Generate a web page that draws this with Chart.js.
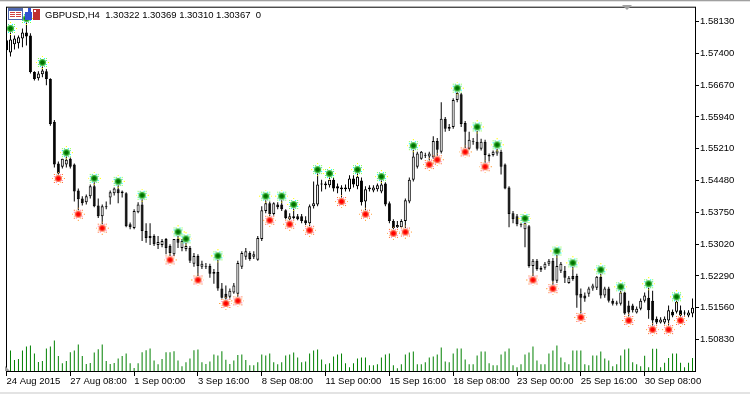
<!DOCTYPE html>
<html>
<head>
<meta charset="utf-8">
<script src="https://cdn.jsdelivr.net/npm/chart.js@4.4.0/dist/chart.umd.min.js"></script>
<style>
  html, body { margin: 0; padding: 0; background: #fff; }
  canvas { display: block; }
</style>
</head>
<body>
<canvas id="chart" width="750" height="394"></canvas>
<script>
// GBPUSD H4 candles (one bar every 4h, index 0 = leftmost)
const opens = [
  1.5747,1.5742,1.5761,1.5763,1.5774,1.5788,1.5781,1.5697,1.5683,1.5692,
  1.5699,1.5681,1.5583,1.5487,1.5480,1.5485,1.5498,1.5485,1.5425,1.5407,
  1.5398,1.5412,1.5435,1.5391,1.5366,1.5389,1.5409,1.5419,1.5428,1.5423,
  1.5419,1.5348,1.5339,1.5375,1.5393,1.5332,1.5321,1.5321,1.5300,1.5300,
  1.5314,1.5298,1.5279,1.5314,1.5293,1.5291,1.5293,1.5257,1.5275,1.5250,
  1.5252,1.5252,1.5234,1.5238,1.5200,1.5188,1.5181,1.5191,1.5188,1.5250,
  1.5273,1.5282,1.5273,1.5266,1.5314,1.5378,1.5396,1.5371,1.5393,1.5393,
  1.5380,1.5359,1.5366,1.5366,1.5366,1.5357,1.5350,1.5389,1.5393,1.5441,
  1.5441,1.5437,1.5450,1.5435,1.5432,1.5428,1.5428,1.5453,1.5435,1.5448,
  1.5400,1.5432,1.5425,1.5428,1.5423,1.5441,1.5396,1.5355,1.5341,1.5341,
  1.5355,1.5400,1.5450,1.5480,1.5498,1.5505,1.5503,1.5501,1.5539,1.5514,
  1.5590,1.5567,1.5571,1.5633,1.5646,1.5580,1.5521,1.5539,1.5537,1.5521,
  1.5537,1.5507,1.5507,1.5510,1.5514,1.5485,1.5432,1.5373,1.5366,1.5346,
  1.5336,1.5343,1.5252,1.5264,1.5248,1.5248,1.5257,1.5264,1.5218,1.5241,
  1.5241,1.5213,1.5229,1.5229,1.5188,1.5184,1.5188,1.5200,1.5202,1.5227,
  1.5184,1.5200,1.5172,1.5165,1.5165,1.5191,1.5161,1.5161,1.5145,1.5154,
  1.5172,1.5179,1.5172,1.5131,1.5122,1.5122,1.5127,1.5147,1.5147,1.5150,
  1.5143,1.5138,1.5143
];
const highs = [
  1.5783,1.5788,1.5781,1.5781,1.5797,1.5811,1.5786,1.5699,1.5699,1.5710,
  1.5704,1.5683,1.5587,1.5492,1.5498,1.5503,1.5501,1.5487,1.5430,1.5412,
  1.5416,1.5439,1.5444,1.5407,1.5393,1.5400,1.5425,1.5432,1.5437,1.5425,
  1.5421,1.5352,1.5382,1.5398,1.5405,1.5350,1.5350,1.5325,1.5321,1.5314,
  1.5316,1.5302,1.5314,1.5321,1.5314,1.5305,1.5298,1.5282,1.5279,1.5264,
  1.5259,1.5257,1.5245,1.5266,1.5213,1.5207,1.5200,1.5213,1.5264,1.5286,
  1.5293,1.5286,1.5286,1.5321,1.5389,1.5403,1.5400,1.5398,1.5398,1.5403,
  1.5382,1.5373,1.5384,1.5371,1.5371,1.5366,1.5393,1.5446,1.5464,1.5450,
  1.5446,1.5455,1.5455,1.5441,1.5437,1.5439,1.5460,1.5460,1.5464,1.5455,
  1.5435,1.5437,1.5437,1.5441,1.5448,1.5444,1.5400,1.5359,1.5355,1.5359,
  1.5407,1.5455,1.5519,1.5514,1.5516,1.5512,1.5514,1.5550,1.5546,1.5628,
  1.5594,1.5578,1.5637,1.5651,1.5649,1.5585,1.5560,1.5546,1.5562,1.5544,
  1.5542,1.5510,1.5517,1.5521,1.5519,1.5487,1.5435,1.5378,1.5371,1.5350,
  1.5352,1.5346,1.5268,1.5268,1.5252,1.5261,1.5268,1.5270,1.5277,1.5261,
  1.5252,1.5229,1.5250,1.5234,1.5200,1.5191,1.5204,1.5211,1.5229,1.5234,
  1.5204,1.5204,1.5177,1.5172,1.5195,1.5193,1.5172,1.5165,1.5159,1.5177,
  1.5191,1.5202,1.5195,1.5136,1.5134,1.5136,1.5161,1.5152,1.5172,1.5161,
  1.5150,1.5150,1.5177
];
const lows = [
  1.5738,1.5733,1.5749,1.5751,1.5754,1.5758,1.5694,1.5678,1.5678,1.5685,
  1.5667,1.5574,1.5478,1.5462,1.5476,1.5478,1.5476,1.5400,1.5380,1.5391,
  1.5393,1.5407,1.5387,1.5362,1.5348,1.5382,1.5393,1.5414,1.5396,1.5409,
  1.5341,1.5336,1.5336,1.5373,1.5309,1.5305,1.5300,1.5298,1.5291,1.5295,
  1.5279,1.5275,1.5275,1.5293,1.5286,1.5286,1.5259,1.5250,1.5229,1.5245,
  1.5245,1.5225,1.5211,1.5195,1.5177,1.5175,1.5177,1.5188,1.5181,1.5245,
  1.5266,1.5264,1.5268,1.5264,1.5309,1.5373,1.5366,1.5368,1.5382,1.5378,
  1.5359,1.5357,1.5359,1.5357,1.5350,1.5346,1.5343,1.5384,1.5389,1.5423,
  1.5428,1.5432,1.5423,1.5419,1.5409,1.5423,1.5423,1.5432,1.5428,1.5391,
  1.5380,1.5423,1.5421,1.5423,1.5419,1.5389,1.5350,1.5336,1.5339,1.5341,
  1.5339,1.5396,1.5446,1.5476,1.5496,1.5500,1.5494,1.5498,1.5505,1.5510,
  1.5560,1.5562,1.5567,1.5628,1.5571,1.5523,1.5519,1.5530,1.5517,1.5517,
  1.5489,1.5492,1.5503,1.5505,1.5462,1.5428,1.5341,1.5350,1.5343,1.5341,
  1.5295,1.5248,1.5229,1.5241,1.5238,1.5243,1.5252,1.5209,1.5213,1.5236,
  1.5213,1.5211,1.5218,1.5156,1.5143,1.5170,1.5181,1.5195,1.5197,1.5177,
  1.5179,1.5168,1.5161,1.5161,1.5161,1.5140,1.5136,1.5145,1.5143,1.5150,
  1.5168,1.5131,1.5115,1.5118,1.5120,1.5118,1.5115,1.5134,1.5143,1.5136,
  1.5138,1.5134,1.5134
];
const closes = [
  1.5770,1.5772,1.5774,1.5777,1.5788,1.5779,1.5697,1.5681,1.5694,1.5701,
  1.5681,1.5578,1.5485,1.5464,1.5498,1.5496,1.5480,1.5423,1.5405,1.5396,
  1.5412,1.5435,1.5389,1.5366,1.5389,1.5387,1.5421,1.5430,1.5419,1.5419,
  1.5343,1.5341,1.5378,1.5393,1.5332,1.5316,1.5316,1.5302,1.5307,1.5309,
  1.5293,1.5282,1.5314,1.5305,1.5309,1.5298,1.5264,1.5275,1.5252,1.5257,
  1.5250,1.5234,1.5238,1.5200,1.5179,1.5177,1.5195,1.5207,1.5259,1.5282,
  1.5286,1.5268,1.5279,1.5316,1.5380,1.5396,1.5371,1.5396,1.5387,1.5382,
  1.5362,1.5366,1.5362,1.5359,1.5355,1.5350,1.5389,1.5396,1.5439,1.5439,
  1.5437,1.5450,1.5430,1.5430,1.5428,1.5432,1.5453,1.5439,1.5457,1.5398,
  1.5428,1.5428,1.5432,1.5437,1.5439,1.5393,1.5355,1.5339,1.5346,1.5355,
  1.5403,1.5450,1.5503,1.5510,1.5514,1.5507,1.5510,1.5539,1.5519,1.5590,
  1.5567,1.5571,1.5633,1.5649,1.5578,1.5560,1.5542,1.5537,1.5521,1.5537,
  1.5507,1.5503,1.5514,1.5517,1.5480,1.5430,1.5371,1.5359,1.5348,1.5348,
  1.5350,1.5252,1.5264,1.5245,1.5243,1.5257,1.5264,1.5218,1.5252,1.5257,
  1.5225,1.5225,1.5222,1.5184,1.5179,1.5177,1.5200,1.5207,1.5227,1.5184,
  1.5200,1.5172,1.5165,1.5168,1.5191,1.5143,1.5145,1.5150,1.5154,1.5172,
  1.5184,1.5150,1.5127,1.5122,1.5129,1.5131,1.5150,1.5138,1.5170,1.5138,
  1.5145,1.5145,1.5156
];
const volumes = [
  1500,2170,1200,1300,2170,2570,2670,1870,1000,1100,
  2370,2570,3170,1600,870,1100,2000,2170,2770,1600,
  800,900,1970,2300,2770,1100,800,900,1370,1600,
  1870,870,400,870,2000,2200,2370,1170,770,1300,
  2000,2000,2100,1170,570,970,1370,2200,2270,970,
  800,1070,1770,1670,2100,1230,800,1170,1700,1770,
  1200,670,670,970,1770,1670,1870,970,770,970,
  1670,1770,1970,1470,970,1070,1870,2170,2270,1270,
  770,870,1570,1770,1870,870,470,870,1370,1470,
  1470,670,670,770,1470,1770,1870,670,370,770,
  1770,1970,2070,770,770,970,1470,1570,1770,2470,
  1070,970,1870,2370,2370,1270,770,770,1670,2070,
  2070,870,670,670,1770,2070,2370,670,470,770,
  1770,1970,2570,1170,770,770,1870,2170,2670,1470,
  970,770,2170,2170,2170,770,670,1670,1670,2070,
  1370,1170,570,770,1670,2270,2370,970,770,570,
  1630,470,2330,2330,470,930,1400,1870,1870,930,
  470,930,1400
];
// bars carrying a fractal arrow
const upFractals = [1,5,9,15,22,28,34,43,45,53,65,69,72,78,81,88,94,102,113,118,123,130,138,142,149,154,161,168];
const downFractals = [13,18,24,41,48,55,58,66,71,76,84,90,97,100,106,108,115,120,132,137,144,156,162,166,169];

const timeLabels = ['24 Aug 2015','27 Aug 08:00','1 Sep 00:00','3 Sep 16:00','8 Sep 08:00',
  '11 Sep 00:00','15 Sep 16:00','18 Sep 08:00','23 Sep 00:00','25 Sep 16:00','30 Sep 08:00'];
const labelStep = 16;
const priceTicks = [1.58130,1.57400,1.56670,1.55940,1.55210,1.54480,1.53750,1.53020,1.52290,1.51560,1.50830];

const FONT = { family: '"Liberation Sans", Arial, sans-serif', size: 9.5 };

function makeArrow(up) {
  const c = document.createElement('canvas');
  c.width = 13; c.height = 21;
  const g = c.getContext('2d');
  const cx = 6.5, cy = up ? 6.5 : 14.5;
  const halo = up ? ['#ffff00', '#00ffff', '#80ff40', '#40e0a0'] : ['#ffa040', '#ff80c0', '#ff6020', '#ffc080'];
  for (let k = 0; k < 16; k++) {
    const a = k * Math.PI / 8;
    const r = k % 2 ? 4.6 : 5.6;
    g.fillStyle = halo[k % 4];
    g.fillRect(Math.floor(cx + r * Math.cos(a)), Math.floor(cy + r * Math.sin(a)), 1, 1);
  }
  g.fillStyle = up ? '#40c040' : '#ff7050';
  g.beginPath(); g.arc(cx, cy, 3.6, 0, Math.PI * 2); g.fill();
  g.fillStyle = up ? '#007000' : '#ff0000';
  g.beginPath(); g.arc(cx, cy, 2.3, 0, Math.PI * 2); g.fill();
  return c;
}

const idx = opens.map((_, i) => i);
const isUp = idx.map(i => closes[i] >= opens[i]);

const chrome = {
  id: 'chrome',
  beforeDraw(chart) {
    const ctx = chart.ctx;
    ctx.save();
    ctx.fillStyle = '#fff';
    ctx.fillRect(0, 0, chart.width, chart.height);
    ctx.restore();
  },
  afterDraw(chart) {
    const { ctx, chartArea: a } = chart;
    ctx.save();
    // window edges
    ctx.fillStyle = '#a0a0a0';
    ctx.fillRect(0, 0, chart.width, 1);
    ctx.fillStyle = '#e3e3e3';
    ctx.fillRect(0, 1, chart.width, 1);
    ctx.fillRect(0, chart.height - 2, chart.width, 2);
    // plot frame
    ctx.strokeStyle = '#000';
    ctx.lineWidth = 1;
    ctx.strokeRect(a.left + 0.5, a.top + 0.5, a.right - a.left, a.bottom - a.top - 1);
    // shift marker at top and corner marker bottom left
    ctx.fillStyle = '#a0a0a0';
    ctx.beginPath(); ctx.moveTo(622, 5); ctx.lineTo(632, 5); ctx.lineTo(627, 10); ctx.closePath(); ctx.fill();
    ctx.beginPath(); ctx.moveTo(5, 371); ctx.lineTo(10, 371); ctx.lineTo(5, 366); ctx.closePath(); ctx.fill();
    // header icons
    ctx.fillStyle = '#5068b0'; ctx.fillRect(8, 8, 15, 12);
    ctx.fillStyle = '#fff'; ctx.fillRect(9, 11, 13, 8);
    ctx.fillStyle = '#d04040';
    for (let r = 0; r < 3; r++) { ctx.fillRect(10, 12 + r * 2, 5, 1); ctx.fillRect(16, 12 + r * 2, 5, 1); }
    ctx.fillStyle = '#3050d0'; ctx.fillRect(25, 12, 7, 8); ctx.fillRect(28, 8, 3, 5);
    ctx.fillStyle = '#c03030'; ctx.fillRect(33, 9, 7, 11);
    ctx.fillStyle = '#fff'; ctx.fillRect(34, 10, 2, 2);
    // header text
    ctx.fillStyle = '#000';
    ctx.font = '9.5px "Liberation Sans", Arial, sans-serif';
    ctx.textBaseline = 'middle';
    ctx.fillText('GBPUSD,H4  1.30322 1.30369 1.30310 1.30367  0', 45, 15);
    ctx.restore();
  }
};

new Chart(document.getElementById('chart'), {
  type: 'bar',
  data: {
    datasets: [
      {
        type: 'scatter',
        data: upFractals.map(i => ({ x: i, y: highs[i] })),
        pointStyle: makeArrow(true),
        pointRadius: 5,
        order: 0
      },
      {
        type: 'scatter',
        data: downFractals.map(i => ({ x: i, y: lows[i] })),
        pointStyle: makeArrow(false),
        pointRadius: 5,
        order: 0
      },
      {
        data: idx.map(i => ({ x: i, y: [opens[i], closes[i]] })),
        backgroundColor: isUp.map(u => u ? '#ffffff' : '#000000'),
        borderColor: '#000',
        borderWidth: 1,
        borderSkipped: false,
        barThickness: 3,
        grouped: false,
        inflateAmount: 0,
        order: 1
      },
      {
        data: idx.map(i => ({ x: i, y: [lows[i], highs[i]] })),
        backgroundColor: '#000',
        borderWidth: 0,
        barThickness: 1,
        grouped: false,
        inflateAmount: 0,
        order: 2
      },
      {
        data: idx.map(i => ({ x: i, y: volumes[i] })),
        yAxisID: 'yVol',
        backgroundColor: '#008000',
        borderWidth: 0,
        barThickness: 1,
        grouped: false,
        inflateAmount: 0,
        order: 3
      }
    ]
  },
  options: {
    responsive: false,
    animation: false,
    devicePixelRatio: 1,
    layout: { padding: { left: 4, top: 4, right: 0, bottom: 0 } },
    plugins: { legend: { display: false }, tooltip: { enabled: false } },
    scales: {
      x: {
        type: 'linear',
        offset: false,
        min: -0.125,
        max: 172.625,
        afterBuildTicks: s => { s.ticks = timeLabels.map((_, k) => ({ value: k * labelStep })); },
        afterFit: s => { s.height = 22; },
        ticks: {
          callback: v => timeLabels[Math.round(v / labelStep)],
          align: 'start',
          maxRotation: 0,
          autoSkip: false,
          padding: 0,
          color: '#000',
          font: FONT
        },
        grid: { offset: false, drawOnChartArea: false, drawTicks: true, tickLength: 4, color: '#000' },
        border: { display: false }
      },
      y: {
        position: 'right',
        min: 1.50085,
        max: 1.58472,
        afterBuildTicks: s => { s.ticks = priceTicks.map(v => ({ value: v })); },
        afterFit: s => { s.width = 55; },
        ticks: {
          callback: v => v.toFixed(5),
          padding: 1,
          color: '#000',
          font: FONT
        },
        grid: { drawOnChartArea: false, drawTicks: true, tickLength: 4, color: '#000' },
        border: { display: false }
      },
      yVol: {
        display: false,
        min: 0,
        max: 36800
      }
    }
  },
  plugins: [chrome]
});
</script>
</body>
</html>
